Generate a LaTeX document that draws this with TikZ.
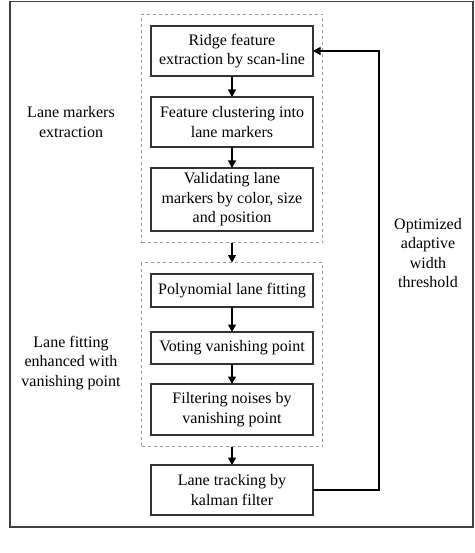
\documentclass[tikz,border=0pt]{standalone}
\usepackage{fontspec}
\setmainfont{Liberation Serif}
\usetikzlibrary{arrows.meta, positioning, fit}

\begin{document}
\begin{tikzpicture}[
        x=1pt, y=1pt,
        stage/.style={rectangle, draw=black!80, line width=1.2pt, minimum width=162pt, align=center, inner sep=3pt, outer sep=0pt, font=\fontsize{16}{19.5}\selectfont},
        group/.style={rectangle, draw=black!40, dashed, line width=0.9pt, inner xsep=9.5pt, inner ysep=11.5pt, outer sep=0pt},
        note/.style={align=center, font=\fontsize{16}{19.5}\selectfont},
        arrow/.style={-{Triangle[width=8pt,length=7.5pt]}, line width=1.2pt}
    ]
        \useasboundingbox (0,0) rectangle (474,-553);
        \draw[line width=1.6pt, draw=black!75] (10,-1.5) rectangle (473,-527);

        \node[stage, minimum height=50pt] (ridge) at (232,-51) {Ridge feature\\extraction by scan-line};
        \node[stage, minimum height=50pt, below=21pt of ridge] (cluster) {Feature clustering into\\lane markers};
        \node[stage, minimum height=63pt, below=21pt of cluster] (valid) {Validating lane\\markers by color, size\\and position};
        \node[stage, minimum height=33pt, below=43pt of valid] (poly) {Polynomial lane fitting};
        \node[stage, minimum height=32pt, below=25pt of poly] (vote) {Voting vanishing point};
        \node[stage, minimum height=51pt, below=20pt of vote] (filter) {Filtering noises by\\vanishing point};
        \node[stage, minimum height=50pt, below=30pt of filter] (track) {Lane tracking by\\kalman filter};

        \node[group, fit=(ridge) (valid)] (extract) {};
        \node[group, fit=(poly) (filter)] (fitting) {};

        \node[note] (extractlbl) at (71,-122) {Lane markers\\extraction};
        \node[note] (fittinglbl) at (71,-363) {Lane fitting\\enhanced with\\vanishing point};
        \node[note] (threshlbl) at (428,-253) {Optimized\\adaptive\\width\\threshold};

        \draw[arrow] (ridge) -- (cluster);
        \draw[arrow] (cluster) -- (valid);
        \draw[arrow] (extract) -- (fitting);
        \draw[arrow] (poly) -- (vote);
        \draw[arrow] (vote) -- (filter);
        \draw[arrow] (fitting) -- (track);

        % feedback loop
        \coordinate (back) at (379,-490);
        \draw[arrow] (track.east) -| (back) |- (ridge.east);
    \end{tikzpicture}
\end{document}
